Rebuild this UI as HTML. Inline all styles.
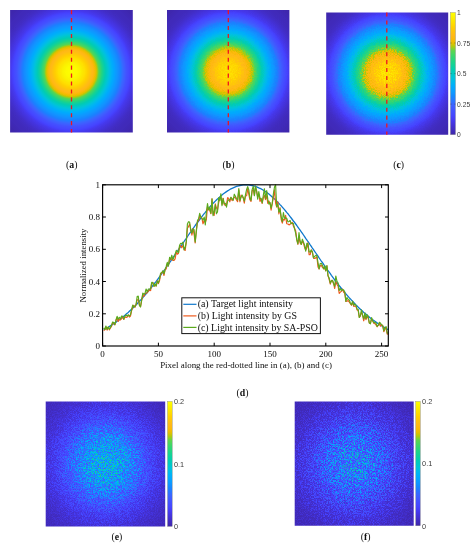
<!DOCTYPE html><html><head><meta charset="utf-8"><title>Figure</title>
<style>html,body{margin:0;padding:0;background:#fff}svg{display:block}text{font-family:"Liberation Serif",serif;fill:#0d0d0d}.sans{font-family:"Liberation Sans",sans-serif;fill:#3a3a3a}</style></head><body>
<svg width="475" height="550" viewBox="0 0 475 550">
<defs>
<radialGradient id="gg" cx="0.5" cy="0.5" r="0.7072"><stop offset="0.0000" stop-color="rgb(255,255,255)"/><stop offset="0.0167" stop-color="rgb(254,254,254)"/><stop offset="0.0333" stop-color="rgb(253,253,253)"/><stop offset="0.0500" stop-color="rgb(252,252,252)"/><stop offset="0.0667" stop-color="rgb(251,251,251)"/><stop offset="0.0833" stop-color="rgb(248,248,248)"/><stop offset="0.1000" stop-color="rgb(246,246,246)"/><stop offset="0.1167" stop-color="rgb(242,242,242)"/><stop offset="0.1333" stop-color="rgb(238,238,238)"/><stop offset="0.1500" stop-color="rgb(235,235,235)"/><stop offset="0.1667" stop-color="rgb(230,230,230)"/><stop offset="0.1833" stop-color="rgb(225,225,225)"/><stop offset="0.2000" stop-color="rgb(220,220,220)"/><stop offset="0.2167" stop-color="rgb(215,215,215)"/><stop offset="0.2333" stop-color="rgb(209,209,209)"/><stop offset="0.2500" stop-color="rgb(203,203,203)"/><stop offset="0.2667" stop-color="rgb(197,197,197)"/><stop offset="0.2833" stop-color="rgb(190,190,190)"/><stop offset="0.3000" stop-color="rgb(182,182,182)"/><stop offset="0.3167" stop-color="rgb(173,173,173)"/><stop offset="0.3333" stop-color="rgb(164,164,164)"/><stop offset="0.3500" stop-color="rgb(154,154,154)"/><stop offset="0.3667" stop-color="rgb(144,144,144)"/><stop offset="0.3833" stop-color="rgb(137,137,137)"/><stop offset="0.4000" stop-color="rgb(129,129,129)"/><stop offset="0.4167" stop-color="rgb(123,123,123)"/><stop offset="0.4333" stop-color="rgb(116,116,116)"/><stop offset="0.4500" stop-color="rgb(110,110,110)"/><stop offset="0.4667" stop-color="rgb(104,104,104)"/><stop offset="0.4833" stop-color="rgb(99,99,99)"/><stop offset="0.5000" stop-color="rgb(93,93,93)"/><stop offset="0.5167" stop-color="rgb(88,88,88)"/><stop offset="0.5333" stop-color="rgb(84,84,84)"/><stop offset="0.5500" stop-color="rgb(79,79,79)"/><stop offset="0.5667" stop-color="rgb(74,74,74)"/><stop offset="0.5833" stop-color="rgb(69,69,69)"/><stop offset="0.6000" stop-color="rgb(63,63,63)"/><stop offset="0.6167" stop-color="rgb(57,57,57)"/><stop offset="0.6333" stop-color="rgb(50,50,50)"/><stop offset="0.6500" stop-color="rgb(45,45,45)"/><stop offset="0.6667" stop-color="rgb(40,40,40)"/><stop offset="0.6833" stop-color="rgb(34,34,34)"/><stop offset="0.7000" stop-color="rgb(29,29,29)"/><stop offset="0.7167" stop-color="rgb(26,26,26)"/><stop offset="0.7333" stop-color="rgb(23,23,23)"/><stop offset="0.7500" stop-color="rgb(20,20,20)"/><stop offset="0.7667" stop-color="rgb(17,17,17)"/><stop offset="0.7833" stop-color="rgb(14,14,14)"/><stop offset="0.8000" stop-color="rgb(12,12,12)"/><stop offset="0.8167" stop-color="rgb(10,10,10)"/><stop offset="0.8333" stop-color="rgb(9,9,9)"/><stop offset="0.8500" stop-color="rgb(8,8,8)"/><stop offset="0.8667" stop-color="rgb(7,7,7)"/><stop offset="0.8833" stop-color="rgb(7,7,7)"/><stop offset="0.9000" stop-color="rgb(6,6,6)"/><stop offset="0.9167" stop-color="rgb(5,5,5)"/><stop offset="0.9333" stop-color="rgb(4,4,4)"/><stop offset="0.9500" stop-color="rgb(3,3,3)"/><stop offset="0.9667" stop-color="rgb(2,2,2)"/><stop offset="0.9833" stop-color="rgb(2,2,2)"/><stop offset="1.0000" stop-color="rgb(1,1,1)"/></radialGradient>
<radialGradient id="gb" cx="0.5" cy="0.5" r="0.7072"><stop offset="0.0000" stop-color="rgb(233,233,233)"/><stop offset="0.0167" stop-color="rgb(233,233,233)"/><stop offset="0.0333" stop-color="rgb(232,232,232)"/><stop offset="0.0500" stop-color="rgb(231,231,231)"/><stop offset="0.0667" stop-color="rgb(230,230,230)"/><stop offset="0.0833" stop-color="rgb(228,228,228)"/><stop offset="0.1000" stop-color="rgb(226,226,226)"/><stop offset="0.1167" stop-color="rgb(224,224,224)"/><stop offset="0.1333" stop-color="rgb(221,221,221)"/><stop offset="0.1500" stop-color="rgb(218,218,218)"/><stop offset="0.1667" stop-color="rgb(214,214,214)"/><stop offset="0.1833" stop-color="rgb(210,210,210)"/><stop offset="0.2000" stop-color="rgb(206,206,206)"/><stop offset="0.2167" stop-color="rgb(202,202,202)"/><stop offset="0.2333" stop-color="rgb(197,197,197)"/><stop offset="0.2500" stop-color="rgb(192,192,192)"/><stop offset="0.2667" stop-color="rgb(187,187,187)"/><stop offset="0.2833" stop-color="rgb(181,181,181)"/><stop offset="0.3000" stop-color="rgb(175,175,175)"/><stop offset="0.3167" stop-color="rgb(167,167,167)"/><stop offset="0.3333" stop-color="rgb(158,158,158)"/><stop offset="0.3500" stop-color="rgb(149,149,149)"/><stop offset="0.3667" stop-color="rgb(141,141,141)"/><stop offset="0.3833" stop-color="rgb(133,133,133)"/><stop offset="0.4000" stop-color="rgb(127,127,127)"/><stop offset="0.4167" stop-color="rgb(120,120,120)"/><stop offset="0.4333" stop-color="rgb(114,114,114)"/><stop offset="0.4500" stop-color="rgb(108,108,108)"/><stop offset="0.4667" stop-color="rgb(103,103,103)"/><stop offset="0.4833" stop-color="rgb(98,98,98)"/><stop offset="0.5000" stop-color="rgb(92,92,92)"/><stop offset="0.5167" stop-color="rgb(88,88,88)"/><stop offset="0.5333" stop-color="rgb(83,83,83)"/><stop offset="0.5500" stop-color="rgb(78,78,78)"/><stop offset="0.5667" stop-color="rgb(74,74,74)"/><stop offset="0.5833" stop-color="rgb(68,68,68)"/><stop offset="0.6000" stop-color="rgb(62,62,62)"/><stop offset="0.6167" stop-color="rgb(56,56,56)"/><stop offset="0.6333" stop-color="rgb(50,50,50)"/><stop offset="0.6500" stop-color="rgb(45,45,45)"/><stop offset="0.6667" stop-color="rgb(40,40,40)"/><stop offset="0.6833" stop-color="rgb(34,34,34)"/><stop offset="0.7000" stop-color="rgb(29,29,29)"/><stop offset="0.7167" stop-color="rgb(26,26,26)"/><stop offset="0.7333" stop-color="rgb(23,23,23)"/><stop offset="0.7500" stop-color="rgb(20,20,20)"/><stop offset="0.7667" stop-color="rgb(17,17,17)"/><stop offset="0.7833" stop-color="rgb(14,14,14)"/><stop offset="0.8000" stop-color="rgb(12,12,12)"/><stop offset="0.8167" stop-color="rgb(10,10,10)"/><stop offset="0.8333" stop-color="rgb(9,9,9)"/><stop offset="0.8500" stop-color="rgb(8,8,8)"/><stop offset="0.8667" stop-color="rgb(7,7,7)"/><stop offset="0.8833" stop-color="rgb(7,7,7)"/><stop offset="0.9000" stop-color="rgb(6,6,6)"/><stop offset="0.9167" stop-color="rgb(5,5,5)"/><stop offset="0.9333" stop-color="rgb(4,4,4)"/><stop offset="0.9500" stop-color="rgb(3,3,3)"/><stop offset="0.9667" stop-color="rgb(2,2,2)"/><stop offset="0.9833" stop-color="rgb(2,2,2)"/><stop offset="1.0000" stop-color="rgb(1,1,1)"/></radialGradient>
<radialGradient id="ge" cx="0.5" cy="0.5" r="0.7072"><stop offset="0.0000" stop-color="rgb(99,99,99)"/><stop offset="0.0250" stop-color="rgb(99,99,99)"/><stop offset="0.0500" stop-color="rgb(99,99,99)"/><stop offset="0.0750" stop-color="rgb(98,98,98)"/><stop offset="0.1000" stop-color="rgb(96,96,96)"/><stop offset="0.1250" stop-color="rgb(94,94,94)"/><stop offset="0.1500" stop-color="rgb(92,92,92)"/><stop offset="0.1750" stop-color="rgb(89,89,89)"/><stop offset="0.2000" stop-color="rgb(87,87,87)"/><stop offset="0.2250" stop-color="rgb(83,83,83)"/><stop offset="0.2500" stop-color="rgb(80,80,80)"/><stop offset="0.2750" stop-color="rgb(77,77,77)"/><stop offset="0.3000" stop-color="rgb(73,73,73)"/><stop offset="0.3250" stop-color="rgb(69,69,69)"/><stop offset="0.3500" stop-color="rgb(65,65,65)"/><stop offset="0.3750" stop-color="rgb(62,62,62)"/><stop offset="0.4000" stop-color="rgb(58,58,58)"/><stop offset="0.4250" stop-color="rgb(54,54,54)"/><stop offset="0.4500" stop-color="rgb(50,50,50)"/><stop offset="0.4750" stop-color="rgb(46,46,46)"/><stop offset="0.5000" stop-color="rgb(43,43,43)"/><stop offset="0.5250" stop-color="rgb(40,40,40)"/><stop offset="0.5500" stop-color="rgb(36,36,36)"/><stop offset="0.5750" stop-color="rgb(33,33,33)"/><stop offset="0.6000" stop-color="rgb(30,30,30)"/><stop offset="0.6250" stop-color="rgb(28,28,28)"/><stop offset="0.6500" stop-color="rgb(25,25,25)"/><stop offset="0.6750" stop-color="rgb(23,23,23)"/><stop offset="0.7000" stop-color="rgb(21,21,21)"/><stop offset="0.7250" stop-color="rgb(19,19,19)"/><stop offset="0.7500" stop-color="rgb(17,17,17)"/><stop offset="0.7750" stop-color="rgb(16,16,16)"/><stop offset="0.8000" stop-color="rgb(14,14,14)"/><stop offset="0.8250" stop-color="rgb(13,13,13)"/><stop offset="0.8500" stop-color="rgb(12,12,12)"/><stop offset="0.8750" stop-color="rgb(11,11,11)"/><stop offset="0.9000" stop-color="rgb(10,10,10)"/><stop offset="0.9250" stop-color="rgb(9,9,9)"/><stop offset="0.9500" stop-color="rgb(9,9,9)"/><stop offset="0.9750" stop-color="rgb(8,8,8)"/><stop offset="1.0000" stop-color="rgb(8,8,8)"/></radialGradient>
<radialGradient id="gf" cx="0.5" cy="0.5" r="0.7072"><stop offset="0.0000" stop-color="rgb(67,67,67)"/><stop offset="0.0250" stop-color="rgb(67,67,67)"/><stop offset="0.0500" stop-color="rgb(66,66,66)"/><stop offset="0.0750" stop-color="rgb(66,66,66)"/><stop offset="0.1000" stop-color="rgb(65,65,65)"/><stop offset="0.1250" stop-color="rgb(64,64,64)"/><stop offset="0.1500" stop-color="rgb(62,62,62)"/><stop offset="0.1750" stop-color="rgb(61,61,61)"/><stop offset="0.2000" stop-color="rgb(59,59,59)"/><stop offset="0.2250" stop-color="rgb(57,57,57)"/><stop offset="0.2500" stop-color="rgb(55,55,55)"/><stop offset="0.2750" stop-color="rgb(53,53,53)"/><stop offset="0.3000" stop-color="rgb(51,51,51)"/><stop offset="0.3250" stop-color="rgb(48,48,48)"/><stop offset="0.3500" stop-color="rgb(46,46,46)"/><stop offset="0.3750" stop-color="rgb(43,43,43)"/><stop offset="0.4000" stop-color="rgb(41,41,41)"/><stop offset="0.4250" stop-color="rgb(39,39,39)"/><stop offset="0.4500" stop-color="rgb(36,36,36)"/><stop offset="0.4750" stop-color="rgb(34,34,34)"/><stop offset="0.5000" stop-color="rgb(31,31,31)"/><stop offset="0.5250" stop-color="rgb(29,29,29)"/><stop offset="0.5500" stop-color="rgb(27,27,27)"/><stop offset="0.5750" stop-color="rgb(25,25,25)"/><stop offset="0.6000" stop-color="rgb(23,23,23)"/><stop offset="0.6250" stop-color="rgb(21,21,21)"/><stop offset="0.6500" stop-color="rgb(19,19,19)"/><stop offset="0.6750" stop-color="rgb(18,18,18)"/><stop offset="0.7000" stop-color="rgb(16,16,16)"/><stop offset="0.7250" stop-color="rgb(15,15,15)"/><stop offset="0.7500" stop-color="rgb(13,13,13)"/><stop offset="0.7750" stop-color="rgb(12,12,12)"/><stop offset="0.8000" stop-color="rgb(11,11,11)"/><stop offset="0.8250" stop-color="rgb(10,10,10)"/><stop offset="0.8500" stop-color="rgb(9,9,9)"/><stop offset="0.8750" stop-color="rgb(8,8,8)"/><stop offset="0.9000" stop-color="rgb(8,8,8)"/><stop offset="0.9250" stop-color="rgb(7,7,7)"/><stop offset="0.9500" stop-color="rgb(6,6,6)"/><stop offset="0.9750" stop-color="rgb(6,6,6)"/><stop offset="1.0000" stop-color="rgb(6,6,6)"/></radialGradient>
<linearGradient id="cb" x1="0" y1="0" x2="0" y2="1"><stop offset="0.0000" stop-color="#feff00"/><stop offset="0.0312" stop-color="#fcf400"/><stop offset="0.0625" stop-color="#fde800"/><stop offset="0.0938" stop-color="#ffdb00"/><stop offset="0.1250" stop-color="#ffce02"/><stop offset="0.1562" stop-color="#ffc30d"/><stop offset="0.1875" stop-color="#ffb918"/><stop offset="0.2188" stop-color="#fbba0a"/><stop offset="0.2500" stop-color="#e7be00"/><stop offset="0.2812" stop-color="#aacb12"/><stop offset="0.3125" stop-color="#5ed54d"/><stop offset="0.3438" stop-color="#44d664"/><stop offset="0.3750" stop-color="#2fd577"/><stop offset="0.4062" stop-color="#1dd489"/><stop offset="0.4375" stop-color="#10d19c"/><stop offset="0.4688" stop-color="#03cdb0"/><stop offset="0.5000" stop-color="#00c9c3"/><stop offset="0.5312" stop-color="#00c4d8"/><stop offset="0.5625" stop-color="#00bbea"/><stop offset="0.5938" stop-color="#00b0f9"/><stop offset="0.6250" stop-color="#06a4ff"/><stop offset="0.6562" stop-color="#0f98ff"/><stop offset="0.6875" stop-color="#1788ff"/><stop offset="0.7188" stop-color="#2777ff"/><stop offset="0.7500" stop-color="#3a66ff"/><stop offset="0.7812" stop-color="#415aff"/><stop offset="0.8125" stop-color="#444fff"/><stop offset="0.8438" stop-color="#4646ff"/><stop offset="0.8750" stop-color="#463cf4"/><stop offset="0.9062" stop-color="#4535e1"/><stop offset="0.9375" stop-color="#4330ce"/><stop offset="0.9688" stop-color="#412bbb"/><stop offset="1.0000" stop-color="#3e26a8"/></linearGradient>
<filter id="fa" x="0" y="0" width="1" height="1" color-interpolation-filters="sRGB">
<feComponentTransfer in="SourceGraphic" result="p"><feFuncR type="table" tableValues="0.2422 0.2481 0.2533 0.2581 0.2626 0.2666 0.2699 0.2727 0.2741 0.2744 0.2733 0.2709 0.2672 0.2620 0.2539 0.2424 0.2269 0.1966 0.1512 0.1064 0.0891 0.0796 0.0598 0.0365 0.0233 0.0031 0.0000 0.0000 0.0000 0.0000 0.0000 0.0000 0.0000 0.0000 0.0112 0.0413 0.0641 0.0895 0.1147 0.1460 0.1840 0.2248 0.2655 0.3070 0.3678 0.5193 0.6651 0.7998 0.9043 0.9475 0.9862 1.0000 1.0000 1.0000 1.0000 1.0000 1.0000 1.0000 1.0000 1.0000 0.9912 0.9865 0.9866 0.9899 0.9948"/><feFuncG type="table" tableValues="0.1504 0.1582 0.1679 0.1778 0.1871 0.1964 0.2064 0.2200 0.2368 0.2549 0.2734 0.2921 0.3108 0.3302 0.3525 0.3756 0.3997 0.4327 0.4683 0.5038 0.5351 0.5650 0.5945 0.6209 0.6442 0.6675 0.6903 0.7118 0.7323 0.7518 0.7681 0.7807 0.7893 0.7954 0.8021 0.8097 0.8179 0.8257 0.8305 0.8339 0.8359 0.8370 0.8374 0.8370 0.8343 0.8194 0.7970 0.7696 0.7455 0.7359 0.7286 0.7247 0.7272 0.7426 0.7637 0.7862 0.8095 0.8338 0.8585 0.8832 0.9087 0.9333 0.9572 0.9805 1.0000"/><feFuncB type="table" tableValues="0.6603 0.6988 0.7352 0.7715 0.8088 0.8464 0.8828 0.9209 0.9574 0.9893 1.0000 1.0000 1.0000 1.0000 1.0000 1.0000 1.0000 1.0000 1.0000 1.0000 1.0000 1.0000 1.0000 1.0000 1.0000 0.9938 0.9749 0.9493 0.9185 0.8851 0.8481 0.8076 0.7634 0.7261 0.6890 0.6514 0.6120 0.5698 0.5361 0.5024 0.4675 0.4315 0.3938 0.3544 0.3012 0.1813 0.0704 0.0000 0.0000 0.0066 0.0374 0.0733 0.0923 0.0750 0.0523 0.0289 0.0081 0.0000 0.0000 0.0000 0.0000 0.0000 0.0000 0.0000 0.0000"/><feFuncA type="linear" slope="0" intercept="1"/></feComponentTransfer>
</filter>
<filter id="fb" x="0" y="0" width="1" height="1" color-interpolation-filters="sRGB">
<feTurbulence type="fractalNoise" baseFrequency="1.37" numOctaves="1" seed="3" result="t"/>
<feColorMatrix in="t" type="matrix" values="3 0 0 0 -1  3 0 0 0 -1  3 0 0 0 -1  0 0 0 0 1" result="n"/>
<feComposite in="SourceGraphic" in2="n" operator="arithmetic" k1="0.05" k2="0.975" k3="0" k4="0" result="m"/>
<feComponentTransfer in="m" result="p"><feFuncR type="table" tableValues="0.2422 0.2481 0.2533 0.2581 0.2626 0.2666 0.2699 0.2727 0.2741 0.2744 0.2733 0.2709 0.2672 0.2620 0.2539 0.2424 0.2269 0.1966 0.1512 0.1064 0.0891 0.0796 0.0598 0.0365 0.0233 0.0031 0.0000 0.0000 0.0000 0.0000 0.0000 0.0000 0.0000 0.0000 0.0112 0.0413 0.0641 0.0895 0.1147 0.1460 0.1840 0.2248 0.2655 0.3070 0.3678 0.5193 0.6651 0.7998 0.9043 0.9475 0.9862 1.0000 1.0000 1.0000 1.0000 1.0000 1.0000 1.0000 1.0000 1.0000 0.9912 0.9865 0.9866 0.9899 0.9948"/><feFuncG type="table" tableValues="0.1504 0.1582 0.1679 0.1778 0.1871 0.1964 0.2064 0.2200 0.2368 0.2549 0.2734 0.2921 0.3108 0.3302 0.3525 0.3756 0.3997 0.4327 0.4683 0.5038 0.5351 0.5650 0.5945 0.6209 0.6442 0.6675 0.6903 0.7118 0.7323 0.7518 0.7681 0.7807 0.7893 0.7954 0.8021 0.8097 0.8179 0.8257 0.8305 0.8339 0.8359 0.8370 0.8374 0.8370 0.8343 0.8194 0.7970 0.7696 0.7455 0.7359 0.7286 0.7247 0.7272 0.7426 0.7637 0.7862 0.8095 0.8338 0.8585 0.8832 0.9087 0.9333 0.9572 0.9805 1.0000"/><feFuncB type="table" tableValues="0.6603 0.6988 0.7352 0.7715 0.8088 0.8464 0.8828 0.9209 0.9574 0.9893 1.0000 1.0000 1.0000 1.0000 1.0000 1.0000 1.0000 1.0000 1.0000 1.0000 1.0000 1.0000 1.0000 1.0000 1.0000 0.9938 0.9749 0.9493 0.9185 0.8851 0.8481 0.8076 0.7634 0.7261 0.6890 0.6514 0.6120 0.5698 0.5361 0.5024 0.4675 0.4315 0.3938 0.3544 0.3012 0.1813 0.0704 0.0000 0.0000 0.0066 0.0374 0.0733 0.0923 0.0750 0.0523 0.0289 0.0081 0.0000 0.0000 0.0000 0.0000 0.0000 0.0000 0.0000 0.0000"/><feFuncA type="linear" slope="0" intercept="1"/></feComponentTransfer>
<feGaussianBlur in="p" stdDeviation="0.4" edgeMode="duplicate"/>
</filter>
<filter id="fc" x="0" y="0" width="1" height="1" color-interpolation-filters="sRGB">
<feTurbulence type="fractalNoise" baseFrequency="1.37" numOctaves="1" seed="11" result="t"/>
<feColorMatrix in="t" type="matrix" values="3 0 0 0 -1  3 0 0 0 -1  3 0 0 0 -1  0 0 0 0 1" result="n"/>
<feComposite in="SourceGraphic" in2="n" operator="arithmetic" k1="0.1" k2="0.95" k3="0" k4="0" result="m"/>
<feComponentTransfer in="m" result="p"><feFuncR type="table" tableValues="0.2422 0.2481 0.2533 0.2581 0.2626 0.2666 0.2699 0.2727 0.2741 0.2744 0.2733 0.2709 0.2672 0.2620 0.2539 0.2424 0.2269 0.1966 0.1512 0.1064 0.0891 0.0796 0.0598 0.0365 0.0233 0.0031 0.0000 0.0000 0.0000 0.0000 0.0000 0.0000 0.0000 0.0000 0.0112 0.0413 0.0641 0.0895 0.1147 0.1460 0.1840 0.2248 0.2655 0.3070 0.3678 0.5193 0.6651 0.7998 0.9043 0.9475 0.9862 1.0000 1.0000 1.0000 1.0000 1.0000 1.0000 1.0000 1.0000 1.0000 0.9912 0.9865 0.9866 0.9899 0.9948"/><feFuncG type="table" tableValues="0.1504 0.1582 0.1679 0.1778 0.1871 0.1964 0.2064 0.2200 0.2368 0.2549 0.2734 0.2921 0.3108 0.3302 0.3525 0.3756 0.3997 0.4327 0.4683 0.5038 0.5351 0.5650 0.5945 0.6209 0.6442 0.6675 0.6903 0.7118 0.7323 0.7518 0.7681 0.7807 0.7893 0.7954 0.8021 0.8097 0.8179 0.8257 0.8305 0.8339 0.8359 0.8370 0.8374 0.8370 0.8343 0.8194 0.7970 0.7696 0.7455 0.7359 0.7286 0.7247 0.7272 0.7426 0.7637 0.7862 0.8095 0.8338 0.8585 0.8832 0.9087 0.9333 0.9572 0.9805 1.0000"/><feFuncB type="table" tableValues="0.6603 0.6988 0.7352 0.7715 0.8088 0.8464 0.8828 0.9209 0.9574 0.9893 1.0000 1.0000 1.0000 1.0000 1.0000 1.0000 1.0000 1.0000 1.0000 1.0000 1.0000 1.0000 1.0000 1.0000 1.0000 0.9938 0.9749 0.9493 0.9185 0.8851 0.8481 0.8076 0.7634 0.7261 0.6890 0.6514 0.6120 0.5698 0.5361 0.5024 0.4675 0.4315 0.3938 0.3544 0.3012 0.1813 0.0704 0.0000 0.0000 0.0066 0.0374 0.0733 0.0923 0.0750 0.0523 0.0289 0.0081 0.0000 0.0000 0.0000 0.0000 0.0000 0.0000 0.0000 0.0000"/><feFuncA type="linear" slope="0" intercept="1"/></feComponentTransfer>
<feGaussianBlur in="p" stdDeviation="0.4" edgeMode="duplicate"/>
</filter>
<filter id="fe" x="0" y="0" width="1" height="1" color-interpolation-filters="sRGB">
<feTurbulence type="fractalNoise" baseFrequency="1.37" numOctaves="1" seed="5" result="t"/>
<feColorMatrix in="t" type="matrix" values="3 0 0 0 -1  3 0 0 0 -1  3 0 0 0 -1  0 0 0 0 1" result="n0"/>
<feComponentTransfer in="n0" result="n"><feFuncR type="table" tableValues="0.2 0.5 1"/><feFuncG type="table" tableValues="0.2 0.5 1"/><feFuncB type="table" tableValues="0.2 0.5 1"/></feComponentTransfer>
<feComposite in="SourceGraphic" in2="n" operator="arithmetic" k1="1.2" k2="0.4" k3="0" k4="0" result="m"/>
<feComponentTransfer in="m" result="p"><feFuncR type="table" tableValues="0.2422 0.2481 0.2533 0.2581 0.2626 0.2666 0.2699 0.2727 0.2741 0.2744 0.2733 0.2709 0.2672 0.2620 0.2539 0.2424 0.2269 0.1966 0.1512 0.1064 0.0891 0.0796 0.0598 0.0365 0.0233 0.0031 0.0000 0.0000 0.0000 0.0000 0.0000 0.0000 0.0000 0.0000 0.0112 0.0413 0.0641 0.0895 0.1147 0.1460 0.1840 0.2248 0.2655 0.3070 0.3678 0.5193 0.6651 0.7998 0.9043 0.9475 0.9862 1.0000 1.0000 1.0000 1.0000 1.0000 1.0000 1.0000 1.0000 1.0000 0.9912 0.9865 0.9866 0.9899 0.9948"/><feFuncG type="table" tableValues="0.1504 0.1582 0.1679 0.1778 0.1871 0.1964 0.2064 0.2200 0.2368 0.2549 0.2734 0.2921 0.3108 0.3302 0.3525 0.3756 0.3997 0.4327 0.4683 0.5038 0.5351 0.5650 0.5945 0.6209 0.6442 0.6675 0.6903 0.7118 0.7323 0.7518 0.7681 0.7807 0.7893 0.7954 0.8021 0.8097 0.8179 0.8257 0.8305 0.8339 0.8359 0.8370 0.8374 0.8370 0.8343 0.8194 0.7970 0.7696 0.7455 0.7359 0.7286 0.7247 0.7272 0.7426 0.7637 0.7862 0.8095 0.8338 0.8585 0.8832 0.9087 0.9333 0.9572 0.9805 1.0000"/><feFuncB type="table" tableValues="0.6603 0.6988 0.7352 0.7715 0.8088 0.8464 0.8828 0.9209 0.9574 0.9893 1.0000 1.0000 1.0000 1.0000 1.0000 1.0000 1.0000 1.0000 1.0000 1.0000 1.0000 1.0000 1.0000 1.0000 1.0000 0.9938 0.9749 0.9493 0.9185 0.8851 0.8481 0.8076 0.7634 0.7261 0.6890 0.6514 0.6120 0.5698 0.5361 0.5024 0.4675 0.4315 0.3938 0.3544 0.3012 0.1813 0.0704 0.0000 0.0000 0.0066 0.0374 0.0733 0.0923 0.0750 0.0523 0.0289 0.0081 0.0000 0.0000 0.0000 0.0000 0.0000 0.0000 0.0000 0.0000"/><feFuncA type="linear" slope="0" intercept="1"/></feComponentTransfer>
<feGaussianBlur in="p" stdDeviation="0.6" edgeMode="duplicate"/>
</filter>
<filter id="ff" x="0" y="0" width="1" height="1" color-interpolation-filters="sRGB">
<feTurbulence type="fractalNoise" baseFrequency="1.37" numOctaves="1" seed="23" result="t"/>
<feColorMatrix in="t" type="matrix" values="3 0 0 0 -1  3 0 0 0 -1  3 0 0 0 -1  0 0 0 0 1" result="n0"/>
<feComponentTransfer in="n0" result="n"><feFuncR type="table" tableValues="0.3 0.5 1"/><feFuncG type="table" tableValues="0.3 0.5 1"/><feFuncB type="table" tableValues="0.3 0.5 1"/></feComponentTransfer>
<feComposite in="SourceGraphic" in2="n" operator="arithmetic" k1="2.2" k2="-0.1" k3="0" k4="0" result="m"/>
<feComponentTransfer in="m" result="p"><feFuncR type="table" tableValues="0.2422 0.2481 0.2533 0.2581 0.2626 0.2666 0.2699 0.2727 0.2741 0.2744 0.2733 0.2709 0.2672 0.2620 0.2539 0.2424 0.2269 0.1966 0.1512 0.1064 0.0891 0.0796 0.0598 0.0365 0.0233 0.0031 0.0000 0.0000 0.0000 0.0000 0.0000 0.0000 0.0000 0.0000 0.0112 0.0413 0.0641 0.0895 0.1147 0.1460 0.1840 0.2248 0.2655 0.3070 0.3678 0.5193 0.6651 0.7998 0.9043 0.9475 0.9862 1.0000 1.0000 1.0000 1.0000 1.0000 1.0000 1.0000 1.0000 1.0000 0.9912 0.9865 0.9866 0.9899 0.9948"/><feFuncG type="table" tableValues="0.1504 0.1582 0.1679 0.1778 0.1871 0.1964 0.2064 0.2200 0.2368 0.2549 0.2734 0.2921 0.3108 0.3302 0.3525 0.3756 0.3997 0.4327 0.4683 0.5038 0.5351 0.5650 0.5945 0.6209 0.6442 0.6675 0.6903 0.7118 0.7323 0.7518 0.7681 0.7807 0.7893 0.7954 0.8021 0.8097 0.8179 0.8257 0.8305 0.8339 0.8359 0.8370 0.8374 0.8370 0.8343 0.8194 0.7970 0.7696 0.7455 0.7359 0.7286 0.7247 0.7272 0.7426 0.7637 0.7862 0.8095 0.8338 0.8585 0.8832 0.9087 0.9333 0.9572 0.9805 1.0000"/><feFuncB type="table" tableValues="0.6603 0.6988 0.7352 0.7715 0.8088 0.8464 0.8828 0.9209 0.9574 0.9893 1.0000 1.0000 1.0000 1.0000 1.0000 1.0000 1.0000 1.0000 1.0000 1.0000 1.0000 1.0000 1.0000 1.0000 1.0000 0.9938 0.9749 0.9493 0.9185 0.8851 0.8481 0.8076 0.7634 0.7261 0.6890 0.6514 0.6120 0.5698 0.5361 0.5024 0.4675 0.4315 0.3938 0.3544 0.3012 0.1813 0.0704 0.0000 0.0000 0.0066 0.0374 0.0733 0.0923 0.0750 0.0523 0.0289 0.0081 0.0000 0.0000 0.0000 0.0000 0.0000 0.0000 0.0000 0.0000"/><feFuncA type="linear" slope="0" intercept="1"/></feComponentTransfer>
<feGaussianBlur in="p" stdDeviation="0.55" edgeMode="duplicate"/>
</filter>
</defs>
<rect width="475" height="550" fill="#fff"/>
<rect x="10" y="10" width="123" height="123" fill="url(#gg)" filter="url(#fa)"/>
<path fill="#fff" d="M9 9H10.1V134H9Z M132.8 9H134V134H132.8Z M9 9H134V10.1H9Z M9 132.6H134V134H9Z"/>
<line x1="71.5" y1="10.1" x2="71.5" y2="132.6" stroke="#f0141e" stroke-width="1.3" stroke-dasharray="4.1 3.83"/>
<rect x="167" y="10" width="123" height="123" fill="url(#gb)" filter="url(#fb)"/>
<path fill="#fff" d="M166 9H167V134H166Z M289.4 9H291V134H289.4Z M166 9H291V10.1H166Z M166 132.6H291V134H166Z"/>
<line x1="228.3" y1="10.1" x2="228.3" y2="132.6" stroke="#f0141e" stroke-width="1.3" stroke-dasharray="4.1 3.83"/>
<rect x="326" y="12" width="123" height="123" fill="url(#gb)" filter="url(#fc)"/>
<path fill="#fff" d="M325 11H326.2V136H325Z M448.2 11H450V136H448.2Z M325 11H450V12.5H325Z M325 134.7H450V136H325Z"/>
<line x1="386.8" y1="12.5" x2="386.8" y2="134.7" stroke="#f0141e" stroke-width="1.3" stroke-dasharray="4.1 3.83"/>
<rect x="450.4" y="12.5" width="5.1" height="122.2" fill="url(#cb)" stroke="#888" stroke-width="0.4"/>
<text class="sans" x="457.1" y="15.1" font-size="6.7">1</text>
<text class="sans" x="457.1" y="45.7" font-size="6.7">0.75</text>
<path d="M450.4 43.0h1.2M455.5 43.0h-1.2" stroke="#222" stroke-width="0.5" opacity="0.7"/>
<text class="sans" x="457.1" y="76.2" font-size="6.7">0.5</text>
<path d="M450.4 73.6h1.2M455.5 73.6h-1.2" stroke="#222" stroke-width="0.5" opacity="0.7"/>
<text class="sans" x="457.1" y="106.8" font-size="6.7">0.25</text>
<path d="M450.4 104.1h1.2M455.5 104.1h-1.2" stroke="#222" stroke-width="0.5" opacity="0.7"/>
<text class="sans" x="457.1" y="137.3" font-size="6.7">0</text>
<text x="71.7" y="168.2" font-size="9.8" text-anchor="middle">(<tspan font-weight="bold">a</tspan>)</text>
<text x="228.5" y="168.2" font-size="9.8" text-anchor="middle">(<tspan font-weight="bold">b</tspan>)</text>
<text x="398.6" y="168.2" font-size="9.8" text-anchor="middle">(<tspan font-weight="bold">c</tspan>)</text>
<polyline points="103.7,329.6 104.8,329.1 105.9,328.4 107.1,327.8 108.2,327.2 109.3,326.5 110.4,325.8 111.5,325.1 112.6,324.4 113.8,323.7 114.9,322.9 116.0,322.1 117.1,321.3 118.2,320.5 119.3,319.7 120.5,318.9 121.6,318.0 122.7,317.1 123.8,316.2 124.9,315.3 126.0,314.3 127.2,313.3 128.3,312.4 129.4,311.3 130.5,310.3 131.6,309.3 132.7,308.2 133.8,307.1 135.0,306.0 136.1,304.9 137.2,303.7 138.3,302.5 139.4,301.3 140.5,300.1 141.7,298.9 142.8,297.7 143.9,296.4 145.0,295.1 146.1,293.8 147.2,292.5 148.4,291.1 149.5,289.8 150.6,288.4 151.7,287.0 152.8,285.6 153.9,284.2 155.1,282.7 156.2,281.3 157.3,279.8 158.4,278.3 159.5,276.8 160.6,275.3 161.7,273.7 162.9,272.2 164.0,270.6 165.1,269.1 166.2,267.5 167.3,265.9 168.4,264.3 169.6,262.7 170.7,261.1 171.8,259.5 172.9,257.9 174.0,256.2 175.1,254.6 176.3,253.0 177.4,251.3 178.5,249.7 179.6,248.1 180.7,246.4 181.8,244.8 183.0,243.1 184.1,241.5 185.2,239.9 186.3,238.3 187.4,236.6 188.5,235.0 189.6,233.4 190.8,231.8 191.9,230.2 193.0,228.7 194.1,227.1 195.2,225.5 196.3,224.0 197.5,222.5 198.6,221.0 199.7,219.5 200.8,218.0 201.9,216.6 203.0,215.2 204.2,213.7 205.3,212.4 206.4,211.0 207.5,209.7 208.6,208.4 209.7,207.1 210.9,205.8 212.0,204.6 213.1,203.4 214.2,202.2 215.3,201.1 216.4,200.0 217.5,198.9 218.7,197.9 219.8,196.9 220.9,195.9 222.0,195.0 223.1,194.1 224.2,193.2 225.4,192.4 226.5,191.6 227.6,190.9 228.7,190.2 229.8,189.5 230.9,188.9 232.1,188.3 233.2,187.8 234.3,187.3 235.4,186.8 236.5,186.4 237.6,186.1 238.8,185.8 239.9,185.5 241.0,185.3 242.1,185.1 243.2,184.9 244.3,184.9 245.5,184.8 246.6,184.8 247.7,184.9 248.8,184.9 249.9,185.1 251.0,185.3 252.1,185.5 253.3,185.8 254.4,186.1 255.5,186.4 256.6,186.8 257.7,187.3 258.8,187.8 260.0,188.3 261.1,188.9 262.2,189.5 263.3,190.2 264.4,190.9 265.5,191.6 266.7,192.4 267.8,193.2 268.9,194.1 270.0,195.0 271.1,195.9 272.2,196.9 273.4,197.9 274.5,198.9 275.6,200.0 276.7,201.1 277.8,202.2 278.9,203.4 280.0,204.6 281.2,205.8 282.3,207.1 283.4,208.4 284.5,209.7 285.6,211.0 286.7,212.4 287.9,213.7 289.0,215.2 290.1,216.6 291.2,218.0 292.3,219.5 293.4,221.0 294.6,222.5 295.7,224.0 296.8,225.5 297.9,227.1 299.0,228.7 300.1,230.2 301.3,231.8 302.4,233.4 303.5,235.0 304.6,236.6 305.7,238.3 306.8,239.9 307.9,241.5 309.1,243.1 310.2,244.8 311.3,246.4 312.4,248.1 313.5,249.7 314.6,251.3 315.8,253.0 316.9,254.6 318.0,256.2 319.1,257.9 320.2,259.5 321.3,261.1 322.5,262.7 323.6,264.3 324.7,265.9 325.8,267.5 326.9,269.1 328.0,270.6 329.2,272.2 330.3,273.7 331.4,275.3 332.5,276.8 333.6,278.3 334.7,279.8 335.8,281.3 337.0,282.7 338.1,284.2 339.2,285.6 340.3,287.0 341.4,288.4 342.5,289.8 343.7,291.1 344.8,292.5 345.9,293.8 347.0,295.1 348.1,296.4 349.2,297.7 350.4,298.9 351.5,300.1 352.6,301.3 353.7,302.5 354.8,303.7 355.9,304.9 357.1,306.0 358.2,307.1 359.3,308.2 360.4,309.3 361.5,310.3 362.6,311.3 363.7,312.4 364.9,313.3 366.0,314.3 367.1,315.3 368.2,316.2 369.3,317.1 370.4,318.0 371.6,318.9 372.7,319.7 373.8,320.5 374.9,321.3 376.0,322.1 377.1,322.9 378.3,323.7 379.4,324.4 380.5,325.1 381.6,325.8 382.7,326.5 383.8,327.2 385.0,327.8 386.1,328.4 387.2,329.1 388.3,329.6" fill="none" stroke="#0f78cc" stroke-width="1.3" stroke-linejoin="round"/>
<polyline points="103.7,330.6 104.8,329.8 105.9,327.0 107.1,330.1 108.2,327.0 109.3,329.9 110.4,327.9 111.5,326.3 112.6,322.8 113.8,323.5 114.9,324.8 116.0,320.3 117.1,317.6 118.2,321.5 119.3,319.3 120.5,320.0 121.6,318.6 122.7,317.1 123.8,319.5 124.9,316.8 126.0,317.4 127.2,317.1 128.3,314.9 129.4,317.1 130.5,316.1 131.6,310.7 132.7,307.3 133.8,305.3 135.0,307.3 136.1,304.4 137.2,300.1 138.3,299.2 139.4,304.8 140.5,306.8 141.7,300.3 142.8,295.0 143.9,296.4 145.0,293.6 146.1,293.3 147.2,292.7 148.4,291.2 149.5,290.0 150.6,290.6 151.7,283.4 152.8,282.4 153.9,286.2 155.1,285.4 156.2,286.0 157.3,280.8 158.4,283.6 159.5,280.8 160.6,274.8 161.7,272.8 162.9,271.4 164.0,275.5 165.1,269.6 166.2,268.9 167.3,263.5 168.4,265.7 169.6,259.3 170.7,259.8 171.8,258.5 172.9,260.5 174.0,260.4 175.1,258.8 176.3,252.2 177.4,254.2 178.5,253.2 179.6,246.5 180.7,245.7 181.8,247.8 183.0,245.2 184.1,249.4 185.2,250.5 186.3,241.6 187.4,228.3 188.5,226.6 189.6,223.9 190.8,229.5 191.9,235.1 193.0,228.6 194.1,234.3 195.2,243.0 196.3,230.2 197.5,221.5 198.6,220.6 199.7,216.0 200.8,216.8 201.9,218.4 203.0,223.8 204.2,220.5 205.3,222.6 206.4,219.3 207.5,206.5 208.6,209.6 209.7,210.2 210.9,213.7 212.0,198.9 213.1,214.1 214.2,215.3 215.3,203.8 216.4,207.8 217.5,209.8 218.7,202.7 219.8,198.6 220.9,197.6 222.0,204.3 223.1,198.2 224.2,204.4 225.4,205.5 226.5,204.8 227.6,197.7 228.7,198.3 229.8,201.8 230.9,197.4 232.1,200.6 233.2,199.3 234.3,197.1 235.4,197.7 236.5,200.0 237.6,201.7 238.8,190.0 239.9,201.8 241.0,195.1 242.1,196.5 243.2,197.8 244.3,203.1 245.5,196.0 246.6,195.8 247.7,188.6 248.8,194.2 249.9,199.8 251.0,201.5 252.1,191.0 253.3,189.7 254.4,195.3 255.5,187.1 256.6,191.2 257.7,196.8 258.8,194.2 260.0,201.5 261.1,198.8 262.2,203.5 263.3,197.8 264.4,195.4 265.5,199.7 266.7,195.9 267.8,203.5 268.9,201.1 270.0,203.2 271.1,210.2 272.2,203.9 273.4,197.1 274.5,189.9 275.6,203.1 276.7,207.1 277.8,201.9 278.9,214.0 280.0,207.5 281.2,219.5 282.3,223.2 283.4,219.4 284.5,219.9 285.6,215.4 286.7,223.8 287.9,224.0 289.0,224.9 290.1,224.3 291.2,223.0 292.3,222.4 293.4,226.1 294.6,228.1 295.7,230.9 296.8,239.6 297.9,244.4 299.0,237.2 300.1,242.8 301.3,244.3 302.4,240.9 303.5,243.4 304.6,247.4 305.7,249.9 306.8,247.9 307.9,242.8 309.1,254.6 310.2,254.6 311.3,249.9 312.4,252.5 313.5,258.1 314.6,258.4 315.8,257.9 316.9,256.9 318.0,267.0 319.1,268.9 320.2,265.7 321.3,265.4 322.5,267.4 323.6,268.6 324.7,268.4 325.8,270.8 326.9,265.9 328.0,275.6 329.2,279.5 330.3,284.1 331.4,280.3 332.5,280.7 333.6,283.7 334.7,288.5 335.8,281.6 337.0,284.5 338.1,286.2 339.2,293.5 340.3,292.1 341.4,291.3 342.5,289.1 343.7,292.4 344.8,293.4 345.9,301.4 347.0,301.3 348.1,300.6 349.2,302.0 350.4,303.8 351.5,305.2 352.6,302.2 353.7,306.4 354.8,306.0 355.9,306.2 357.1,309.9 358.2,310.6 359.3,317.3 360.4,316.0 361.5,311.6 362.6,315.3 363.7,320.8 364.9,315.8 366.0,319.6 367.1,316.2 368.2,318.2 369.3,322.9 370.4,323.3 371.6,318.7 372.7,320.9 373.8,323.2 374.9,323.7 376.0,324.9 377.1,326.8 378.3,325.2 379.4,323.3 380.5,326.2 381.6,324.8 382.7,325.4 383.8,331.6 385.0,329.5 386.1,327.4 387.2,334.1 388.3,334.0" fill="none" stroke="#ee5a1c" stroke-width="1.15" stroke-linejoin="round"/>
<polyline points="103.7,327.9 104.8,329.5 105.9,326.0 107.1,329.4 108.2,326.9 109.3,329.1 110.4,327.4 111.5,325.4 112.6,322.0 113.8,322.6 114.9,324.6 116.0,320.0 117.1,316.3 118.2,319.4 119.3,317.3 120.5,318.8 121.6,316.0 122.7,316.4 123.8,319.1 124.9,316.4 126.0,314.9 127.2,316.1 128.3,314.9 129.4,316.0 130.5,314.7 131.6,309.6 132.7,305.1 133.8,307.0 135.0,306.6 136.1,304.2 137.2,296.3 138.3,296.2 139.4,305.4 140.5,306.8 141.7,299.7 142.8,293.0 143.9,294.3 145.0,293.5 146.1,289.0 147.2,291.9 148.4,289.1 149.5,289.0 150.6,288.9 151.7,282.4 152.8,282.5 153.9,286.4 155.1,283.8 156.2,286.0 157.3,281.1 158.4,282.9 159.5,279.2 160.6,273.0 161.7,272.8 162.9,270.7 164.0,273.8 165.1,269.6 166.2,266.5 167.3,262.3 168.4,266.2 169.6,257.4 170.7,259.3 171.8,255.2 172.9,259.8 174.0,257.0 175.1,254.2 176.3,250.3 177.4,251.5 178.5,252.7 179.6,245.2 180.7,243.3 181.8,243.5 183.0,242.1 184.1,249.8 185.2,247.3 186.3,241.8 187.4,224.1 188.5,221.7 189.6,222.0 190.8,230.7 191.9,233.0 193.0,228.8 194.1,229.6 195.2,241.9 196.3,232.2 197.5,220.4 198.6,218.9 199.7,213.3 200.8,216.9 201.9,218.3 203.0,220.2 204.2,217.1 205.3,224.9 206.4,211.8 207.5,203.6 208.6,210.0 209.7,207.2 210.9,213.3 212.0,198.8 213.1,215.7 214.2,211.5 215.3,204.9 216.4,213.8 217.5,212.0 218.7,197.5 219.8,200.6 220.9,193.7 222.0,205.7 223.1,198.6 224.2,203.6 225.4,203.4 226.5,207.2 227.6,201.0 228.7,199.8 229.8,200.0 230.9,197.4 232.1,198.6 233.2,200.3 234.3,194.2 235.4,196.3 236.5,198.5 237.6,199.8 238.8,188.5 239.9,200.5 241.0,197.6 242.1,195.0 243.2,197.3 244.3,201.2 245.5,194.6 246.6,189.5 247.7,186.6 248.8,189.9 249.9,197.6 251.0,200.4 252.1,189.7 253.3,186.3 254.4,195.8 255.5,186.1 256.6,191.0 257.7,199.1 258.8,191.5 260.0,198.4 261.1,198.4 262.2,202.8 263.3,195.4 264.4,188.7 265.5,198.8 266.7,190.6 267.8,199.4 268.9,204.1 270.0,202.4 271.1,208.1 272.2,203.4 273.4,193.8 274.5,187.0 275.6,184.8 276.7,206.5 277.8,204.4 278.9,212.2 280.0,208.7 281.2,216.8 282.3,221.7 283.4,212.5 284.5,218.2 285.6,217.9 286.7,218.3 287.9,221.9 289.0,221.5 290.1,220.5 291.2,223.7 292.3,223.3 293.4,223.5 294.6,229.1 295.7,233.3 296.8,239.9 297.9,243.8 299.0,232.5 300.1,241.0 301.3,244.5 302.4,239.2 303.5,242.1 304.6,245.1 305.7,251.1 306.8,243.4 307.9,243.7 309.1,251.8 310.2,252.1 311.3,250.1 312.4,251.7 313.5,258.0 314.6,256.4 315.8,255.4 316.9,255.8 318.0,262.7 319.1,268.9 320.2,263.5 321.3,263.3 322.5,265.4 323.6,268.9 324.7,265.8 325.8,271.0 326.9,265.6 328.0,275.7 329.2,278.1 330.3,283.1 331.4,281.0 332.5,280.3 333.6,283.5 334.7,286.3 335.8,276.0 337.0,281.3 338.1,283.0 339.2,290.5 340.3,288.4 341.4,290.7 342.5,289.4 343.7,290.1 344.8,292.1 345.9,301.4 347.0,297.4 348.1,299.5 349.2,299.8 350.4,303.0 351.5,304.8 352.6,301.1 353.7,305.4 354.8,304.0 355.9,305.1 357.1,309.3 358.2,309.4 359.3,317.5 360.4,315.5 361.5,309.8 362.6,315.1 363.7,318.8 364.9,312.8 366.0,318.8 367.1,314.7 368.2,316.3 369.3,323.0 370.4,323.8 371.6,317.6 372.7,320.8 373.8,322.6 374.9,322.2 376.0,323.2 377.1,326.4 378.3,325.2 379.4,322.3 380.5,323.3 381.6,324.6 382.7,325.7 383.8,330.9 385.0,327.5 386.1,326.7 387.2,333.2 388.3,333.0" fill="none" stroke="#5aaa1c" stroke-width="1.15" stroke-linejoin="round"/>
<rect x="102.6" y="184.8" width="285.7" height="161.2" fill="none" stroke="#000" stroke-width="1.15"/>
<text x="102.6" y="357.4" font-size="9" text-anchor="middle">0</text>
<text x="158.4" y="357.4" font-size="9" text-anchor="middle">50</text>
<text x="214.2" y="357.4" font-size="9" text-anchor="middle">100</text>
<text x="270.0" y="357.4" font-size="9" text-anchor="middle">150</text>
<text x="325.8" y="357.4" font-size="9" text-anchor="middle">200</text>
<text x="381.6" y="357.4" font-size="9" text-anchor="middle">250</text>
<text x="100.0" y="349.1" font-size="9" text-anchor="end">0</text>
<text x="100.0" y="316.9" font-size="9" text-anchor="end">0.2</text>
<text x="100.0" y="284.6" font-size="9" text-anchor="end">0.4</text>
<text x="100.0" y="252.4" font-size="9" text-anchor="end">0.6</text>
<text x="100.0" y="220.1" font-size="9" text-anchor="end">0.8</text>
<text x="100.0" y="187.9" font-size="9" text-anchor="end">1</text>
<path d="M102.6 346.0v-3.3M102.6 184.8v3.3M158.4 346.0v-3.3M158.4 184.8v3.3M214.2 346.0v-3.3M214.2 184.8v3.3M270.0 346.0v-3.3M270.0 184.8v3.3M325.8 346.0v-3.3M325.8 184.8v3.3M381.6 346.0v-3.3M381.6 184.8v3.3M102.6 346.0h3.3M388.3 346.0h-3.3M102.6 313.8h3.3M388.3 313.8h-3.3M102.6 281.5h3.3M388.3 281.5h-3.3M102.6 249.3h3.3M388.3 249.3h-3.3M102.6 217.0h3.3M388.3 217.0h-3.3M102.6 184.8h3.3M388.3 184.8h-3.3" stroke="#000" stroke-width="1" fill="none"/>
<text x="246" y="368" font-size="8.95" text-anchor="middle">Pixel along the red-dotted line in (a), (b) and (c)</text>
<text transform="translate(85.7,265.5) rotate(-90)" font-size="8.8" text-anchor="middle">Normalized intensity</text>
<rect x="181.8" y="297.8" width="138.6" height="35.8" fill="#fff" stroke="#111" stroke-width="1"/>
<line x1="183.3" y1="304.3" x2="196.5" y2="304.3" stroke="#0f78cc" stroke-width="1.2"/>
<text x="197.7" y="307.4" font-size="9.9">(a) Target light intensity</text>
<line x1="183.3" y1="315.9" x2="196.5" y2="315.9" stroke="#ee5a1c" stroke-width="1.2"/>
<text x="197.7" y="319.0" font-size="9.9">(b) Light intensity by GS</text>
<line x1="183.3" y1="327.4" x2="196.5" y2="327.4" stroke="#5aaa1c" stroke-width="1.2"/>
<text x="197.7" y="330.5" font-size="9.9">(c) Light intensity by SA-PSO</text>
<text x="242.4" y="395.5" font-size="9.8" text-anchor="middle">(<tspan font-weight="bold">d</tspan>)</text>
<rect x="45" y="401" width="121" height="126" fill="url(#ge)" filter="url(#fe)"/>
<path fill="#fff" d="M44 400H45.7V528H44Z M165.2 400H167V528H165.2Z M44 400H167V401.4H44Z M44 526.4H167V528H44Z"/>
<rect x="167.5" y="401.4" width="4.7" height="125" fill="url(#cb)" stroke="#888" stroke-width="0.4"/>
<text class="sans" x="174" y="404.4" font-size="7.3">0.2</text>
<text class="sans" x="174" y="466.7" font-size="7.3">0.1</text>
<text class="sans" x="174" y="529.1" font-size="7.3">0</text>
<text x="116.9" y="540" font-size="9.8" text-anchor="middle">(<tspan font-weight="bold">e</tspan>)</text>
<rect x="294" y="401" width="120" height="125" fill="url(#gf)" filter="url(#ff)"/>
<path fill="#fff" d="M293 400H294.7V527H293Z M413.7 400H415V527H413.7Z M293 400H415V401.4H293Z M293 525.8H415V527H293Z"/>
<rect x="415.7" y="401.4" width="4.6" height="124.4" fill="url(#cb)" stroke="#888" stroke-width="0.4"/>
<text class="sans" x="422.1" y="404.4" font-size="7.3">0.2</text>
<text class="sans" x="422.1" y="466.4" font-size="7.3">0.1</text>
<text class="sans" x="422.1" y="528.5" font-size="7.3">0</text>
<text x="365.7" y="539.8" font-size="9.8" text-anchor="middle">(<tspan font-weight="bold">f</tspan>)</text>
</svg></body></html>
